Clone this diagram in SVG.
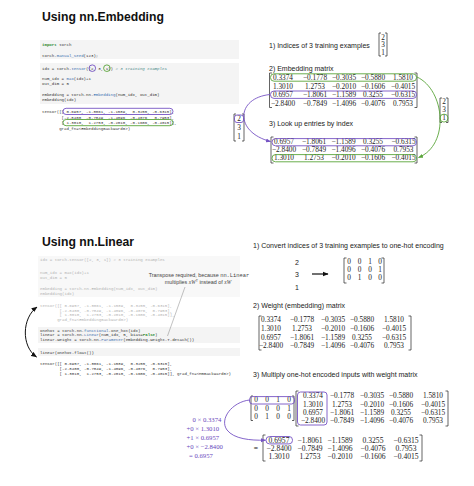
<svg xmlns="http://www.w3.org/2000/svg" width="474" height="486" viewBox="0 0 474 486">
<style>
.title{font-family:"Liberation Sans",Arial,sans-serif;font-weight:bold;font-size:12.2px;fill:#111}
.lbl{font-family:"Liberation Sans",Arial,sans-serif;font-size:7px;fill:#222}
.code{font-family:"Liberation Mono","Courier New",monospace;font-size:4.08px;fill:#333;white-space:pre}
.fade{fill:#b4b4b4}
.kw{fill:#2e8b2e;font-weight:bold}
.fn{fill:#3a6fb0}
.cm{fill:#4a8a8a;font-style:italic}
.m{font-family:"Liberation Serif","Times New Roman",serif;font-size:7.3px;fill:#222;text-anchor:middle}
.mr{font-size:7.6px}
.br{fill:none;stroke:#222;stroke-width:0.7}
.bg{fill:#f4f4f4}
.pu{fill:none;stroke:#7654c4;stroke-width:0.9}
.gr{fill:none;stroke:#5aa53a;stroke-width:0.9}
.ann{font-family:"Liberation Sans",Arial,sans-serif;font-size:5.4px;fill:#444;text-anchor:middle}
.pt{font-family:"Liberation Serif","Times New Roman",serif;font-size:6.7px;fill:#6a48bc}
</style>
<defs>
<marker id="ap" viewBox="0 0 10 10" refX="9" refY="5" markerUnits="userSpaceOnUse" markerWidth="5" markerHeight="5" orient="auto-start-reverse"><path d="M0,1 L10,5 L0,9 z" fill="#7654c4"/></marker>
<marker id="ag" viewBox="0 0 10 10" refX="9" refY="5" markerUnits="userSpaceOnUse" markerWidth="5" markerHeight="5" orient="auto-start-reverse"><path d="M0,1 L10,5 L0,9 z" fill="#5aa53a"/></marker>
<marker id="ak" viewBox="0 0 10 10" refX="9" refY="5" markerUnits="userSpaceOnUse" markerWidth="6" markerHeight="6" orient="auto-start-reverse"><path d="M0,1 L10,5 L0,9 z" fill="#111"/></marker>
</defs>
<rect width="474" height="486" fill="#fff"/>

<!-- ===== Top section ===== -->
<text class="title" x="42" y="21">Using nn.Embedding</text>

<g id="code-embedding">
<rect class="bg" x="40" y="40" width="199" height="19"/>
<rect class="bg" x="40" y="63" width="199" height="41"/>
<text class="code" x="42" y="45.5"><tspan class="kw">import</tspan> torch</text>
<text class="code" x="42" y="56.5">torch.<tspan class="fn">manual_seed</tspan>(123);</text>
<text class="code" x="42" y="69.5">idx = torch.<tspan class="fn">tensor</tspan>([2, 3, 1]) <tspan class="cm"># 3 training examples</tspan></text>
<text class="code" x="42" y="79.5">num_idx = <tspan class="fn">max</tspan>(idx)+1</text>
<text class="code" x="42" y="84.5">out_dim = 5</text>
<text class="code" x="42" y="95.5">embedding = torch.nn.<tspan class="fn">Embedding</tspan>(num_idx, out_dim)</text>
<text class="code" x="42" y="100.5">embedding(idx)</text>
<text class="code" x="42" y="112.5">tensor([[ 0.6957, -1.8061, -1.1589,  0.3255, -0.6315],</text>
<text class="code" x="42" y="118.5">        [-2.8400, -0.7849, -1.4096, -0.4076,  0.7953],</text>
<text class="code" x="42" y="123.8">        [ 1.3010,  1.2753, -0.2010, -0.1606, -0.4015]],</text>
<text class="code" x="42" y="129.5">       grad_fn=&lt;EmbeddingBackward0&gt;)</text>
<circle class="pu" cx="92.3" cy="68.2" r="3.3"/>
<circle class="gr" cx="106.9" cy="68.2" r="3.3"/>
<rect class="pu" x="63" y="108.3" width="110" height="6.2" rx="3.1"/>
<rect class="gr" x="63" y="119.5" width="110" height="6.2" rx="3.1"/>
</g>

<g id="label-indices">
<text class="lbl" x="269" y="47.5">1) Indices of 3 training examples</text>
<path class="br" d="M381,33 H379 V56 H381 M385,33 H387 V56 H385"/>
<text class="m" x="383" y="39.5">2</text>
<text class="m" x="383" y="47">3</text>
<text class="m" x="383" y="54.5">1</text>
</g>

<g id="embedding-matrix">
<text class="lbl" x="269" y="70.5">2) Embedding matrix</text>
<path class="br" d="M272,73 H269.5 V107.5 H272 M414.5,73 H417 V107.5 H414.5"/>
<text class="m" y="79.8"><tspan x="283">0.3374</tspan><tspan x="315">−0.1778</tspan><tspan x="344">−0.3035</tspan><tspan x="373">−0.5880</tspan><tspan x="403">1.5810</tspan></text>
<text class="m" y="88.6"><tspan x="283">1.3010</tspan><tspan x="315">1.2753</tspan><tspan x="344">−0.2010</tspan><tspan x="373">−0.1606</tspan><tspan x="403">−0.4015</tspan></text>
<text class="m" y="97.1"><tspan x="283">0.6957</tspan><tspan x="315">−1.8061</tspan><tspan x="344">−1.1589</tspan><tspan x="373">0.3255</tspan><tspan x="403">−0.6315</tspan></text>
<text class="m" y="105.7"><tspan x="283">−2.8400</tspan><tspan x="315">−0.7849</tspan><tspan x="344">−1.4096</tspan><tspan x="373">−0.4076</tspan><tspan x="403">0.7953</tspan></text>
<rect class="gr" x="270.5" y="73.8" width="146" height="7.4" rx="3.5"/>
<rect class="pu" x="270.5" y="91" width="146" height="7.4" rx="3.5"/>
</g>

<g id="idx-vector-left">
<path class="br" d="M236,114 H234 V141 H236 M242,114 H244 V141 H242"/>
<text class="m" x="239" y="121">2</text>
<text class="m" x="239" y="130">3</text>
<text class="m" x="239" y="139">1</text>
<rect class="pu" x="234.5" y="115" width="9" height="7.5" rx="2.5"/>
</g>

<g id="idx-vector-right">
<path class="br" d="M442,98 H440 V122.5 H442 M446,98 H448 V122.5 H446"/>
<text class="m" x="444" y="103.5">2</text>
<text class="m" x="444" y="111.5">3</text>
<text class="m" x="444" y="120">1</text>
<rect class="gr" x="440.2" y="114.3" width="7.6" height="7.6" rx="3.2"/>
</g>

<g id="lookup-result">
<text class="lbl" x="269" y="125.5">3) Look up entries by index</text>
<path class="br" d="M273.5,137 H271 V163 H273.5 M414.5,137 H417 V163 H414.5"/>
<text class="m" y="144.4"><tspan x="284">0.6957</tspan><tspan x="314">−1.8061</tspan><tspan x="343.5">−1.1589</tspan><tspan x="373">0.3255</tspan><tspan x="403.5">−0.6315</tspan></text>
<text class="m" y="152.4"><tspan x="284">−2.8400</tspan><tspan x="314">−0.7849</tspan><tspan x="343.5">−1.4096</tspan><tspan x="373">−0.4076</tspan><tspan x="403.5">0.7953</tspan></text>
<text class="m" y="160.4"><tspan x="284">1.3010</tspan><tspan x="314">1.2753</tspan><tspan x="343.5">−0.2010</tspan><tspan x="373">−0.1606</tspan><tspan x="403.5">−0.4015</tspan></text>
<rect class="pu" x="272" y="138.6" width="144.5" height="7.2" rx="3.5"/>
<rect class="gr" x="272" y="154.6" width="144.5" height="7.2" rx="3.5"/>
</g>

<!-- ===== Bottom section ===== -->
<text class="title" x="42" y="246">Using nn.Linear</text>

<g id="code-linear">
<rect class="bg" x="38" y="256" width="202" height="41" opacity="0.6"/>
<rect class="bg" x="38" y="327" width="202" height="16"/>
<rect class="bg" x="38" y="348" width="202" height="8"/>
<g class="fade">
<text class="code fade" x="40" y="260.5">idx = torch.tensor([2, 3, 1]) # 3 training examples</text>
<text class="code fade" x="40" y="273.5">num_idx = max(idx)+1</text>
<text class="code fade" x="40" y="278.5">out_dim = 5</text>
<text class="code fade" x="40" y="289.5">embedding = torch.nn.Embedding(num_idx, out_dim)</text>
<text class="code fade" x="40" y="294.5">embedding(idx)</text>
<text class="code fade" x="40" y="306.5">tensor([[ 0.6957, -1.8061, -1.1589,  0.3255, -0.6315],</text>
<text class="code fade" x="40" y="311.5">        [-2.8400, -0.7849, -1.4096, -0.4076,  0.7953],</text>
<text class="code fade" x="40" y="316">        [ 1.3010,  1.2753, -0.2010, -0.1606, -0.4015]],</text>
<text class="code fade" x="40" y="320.5">       grad_fn=&lt;EmbeddingBackward0&gt;)</text>
</g>
<text class="code" x="40" y="331.5">onehot = torch.nn.<tspan class="fn">functional</tspan>.one_hot(idx)</text>
<text class="code" x="40" y="336">linear = torch.nn.<tspan class="fn">Linear</tspan>(num_idx, 5, bias=<tspan class="kw">False</tspan>)</text>
<text class="code" x="40" y="341">linear.weight = torch.nn.<tspan class="fn">Parameter</tspan>(embedding.weight.T.detach())</text>
<text class="code" x="40" y="353.5">linear(onehot.float())</text>
<text class="code" x="40" y="364.5">tensor([[ 0.6957, -1.8061, -1.1589,  0.3255, -0.6315],</text>
<text class="code" x="40" y="369.5">        [-2.8400, -0.7849, -1.4096, -0.4076,  0.7953],</text>
<text class="code" x="40" y="374.5">        [ 1.3010,  1.2753, -0.2010, -0.1606, -0.4015]], grad_fn=&lt;MmBackward0&gt;)</text>
</g>

<g id="transpose-note">
<text class="ann" x="199" y="277">Transpose required, because <tspan font-family="Liberation Mono, monospace">nn.Linear</tspan></text>
<text class="ann" x="198" y="284">multiplies <tspan font-family="Liberation Serif, serif" font-style="italic">xW</tspan><tspan font-size="3.6px" dy="-2">T</tspan><tspan dy="2"> instead of </tspan><tspan font-family="Liberation Serif, serif" font-style="italic">xW</tspan></text>
</g>

<g id="onehot-step">
<text class="lbl" x="253" y="247.5">1) Convert indices of 3 training examples to one-hot encoding</text>
<text class="lbl" x="297" y="264.5" text-anchor="middle">2</text>
<text class="lbl" x="297" y="276.5" text-anchor="middle">3</text>
<text class="lbl" x="297" y="289.5" text-anchor="middle">1</text>
<path class="br" d="M346.5,258 H344 V283 H346.5 M381.5,258 H384 V283 H381.5"/>
<text class="m" y="264.4"><tspan x="349">0</tspan><tspan x="359.5">0</tspan><tspan x="370">1</tspan><tspan x="380">0</tspan></text>
<text class="m" y="272.4"><tspan x="349">0</tspan><tspan x="359.5">0</tspan><tspan x="370">0</tspan><tspan x="380">1</tspan></text>
<text class="m" y="280.4"><tspan x="349">0</tspan><tspan x="359.5">1</tspan><tspan x="370">0</tspan><tspan x="380">0</tspan></text>
</g>

<g id="weight-matrix">
<text class="lbl" x="253" y="307.5">2) Weight (embedding) matrix</text>
<path class="br" d="M261.5,316 H259 V350 H261.5 M408.5,316 H411 V350 H408.5"/>
<text class="m" y="322.4"><tspan x="271">0.3374</tspan><tspan x="302">−0.1778</tspan><tspan x="333">−0.3035</tspan><tspan x="362">−0.5880</tspan><tspan x="394">1.5810</tspan></text>
<text class="m" y="331.2"><tspan x="271">1.3010</tspan><tspan x="302">1.2753</tspan><tspan x="333">−0.2010</tspan><tspan x="362">−0.1606</tspan><tspan x="394">−0.4015</tspan></text>
<text class="m" y="339.6"><tspan x="271">0.6957</tspan><tspan x="302">−1.8061</tspan><tspan x="333">−1.1589</tspan><tspan x="362">0.3255</tspan><tspan x="394">−0.6315</tspan></text>
<text class="m" y="348.2"><tspan x="271">−2.8400</tspan><tspan x="302">−0.7849</tspan><tspan x="333">−1.4096</tspan><tspan x="362">−0.4076</tspan><tspan x="394">0.7953</tspan></text>
</g>

<g id="multiply-step">
<text class="lbl" x="253" y="376.5">3) Multiply one-hot encoded inputs with weight matrix</text>
<path class="br" d="M253,396 H251 V420.5 H253 M292,396 H294 V420.5 H292"/>
<text class="m" y="402.4"><tspan x="256">0</tspan><tspan x="267">0</tspan><tspan x="278">1</tspan><tspan x="289">0</tspan></text>
<text class="m" y="410.6"><tspan x="256">0</tspan><tspan x="267">0</tspan><tspan x="278">0</tspan><tspan x="289">1</tspan></text>
<text class="m" y="419"><tspan x="256">0</tspan><tspan x="267">1</tspan><tspan x="278">0</tspan><tspan x="289">0</tspan></text>
<rect class="pu" x="249.5" y="396.6" width="45" height="7.4" rx="3"/>
<path class="br" d="M298.5,391 H296 V426 H298.5 M445.5,391 H448 V426 H445.5"/>
<text class="m" y="398.4"><tspan x="313">0.3374</tspan><tspan x="342">−0.1778</tspan><tspan x="372">−0.3035</tspan><tspan x="401">−0.5880</tspan><tspan x="433">1.5810</tspan></text>
<text class="m" y="406.6"><tspan x="313">1.3010</tspan><tspan x="342">1.2753</tspan><tspan x="372">−0.2010</tspan><tspan x="401">−0.1606</tspan><tspan x="433">−0.4015</tspan></text>
<text class="m" y="414.6"><tspan x="313">0.6957</tspan><tspan x="342">−1.8061</tspan><tspan x="372">−1.1589</tspan><tspan x="401">0.3255</tspan><tspan x="433">−0.6315</tspan></text>
<text class="m" y="423.2"><tspan x="313">−2.8400</tspan><tspan x="342">−0.7849</tspan><tspan x="372">−1.4096</tspan><tspan x="401">−0.4076</tspan><tspan x="433">0.7953</tspan></text>
<rect class="pu" x="297.5" y="392" width="29.5" height="33" rx="3"/>
<text class="m mr" x="256" y="450.5">=</text>
<path class="br" d="M265.5,435 H263 V461 H265.5 M419.5,435 H422 V461 H419.5"/>
<text class="m mr" y="442.6"><tspan x="279">0.6957</tspan><tspan x="310">−1.8061</tspan><tspan x="340">−1.1589</tspan><tspan x="373">0.3255</tspan><tspan x="406">−0.6315</tspan></text>
<text class="m mr" y="450.6"><tspan x="279">−2.8400</tspan><tspan x="310">−0.7849</tspan><tspan x="340">−1.4096</tspan><tspan x="373">−0.4076</tspan><tspan x="406">0.7953</tspan></text>
<text class="m mr" y="459.4"><tspan x="279">1.3010</tspan><tspan x="310">1.2753</tspan><tspan x="340">−0.2010</tspan><tspan x="373">−0.1606</tspan><tspan x="406">−0.4015</tspan></text>
<rect class="pu" x="266" y="436.5" width="26.5" height="7.4" rx="3.5"/>
</g>

<g id="dot-product-note">
<text class="pt" x="192.5" y="422">0 × 0.3374</text>
<text class="pt" x="186.5" y="430.5">+0 × 1.3010</text>
<text class="pt" x="186.5" y="439.5">+1 × 0.6957</text>
<text class="pt" x="186.5" y="449">+0 × −2.8400</text>
<text class="pt" x="189" y="457.5">= 0.6957</text>
</g>

<g id="connectors">
<path class="pu" d="M270,94.5 C236,98 234,132 270.5,141.5" marker-end="url(#ap)"/>
<path class="gr" d="M417,77 C445,90 450,145 418.5,157.5" marker-end="url(#ag)"/>
<path class="pu" d="M249.5,400 C232,402 219,419 227,430 C234,439 250,440.5 265.5,440.2" marker-end="url(#ap)"/>
<path d="M312,274 H328" fill="none" stroke="#111" stroke-width="1.2" marker-end="url(#ak)"/>
<path d="M37,307 C22,318 21,346 36.5,357" fill="none" stroke="#111" stroke-width="1" marker-start="url(#ak)" marker-end="url(#ak)"/>
<path d="M185,287 L167.5,336" fill="none" stroke="#666" stroke-width="0.4"/>
</g>
</svg>
